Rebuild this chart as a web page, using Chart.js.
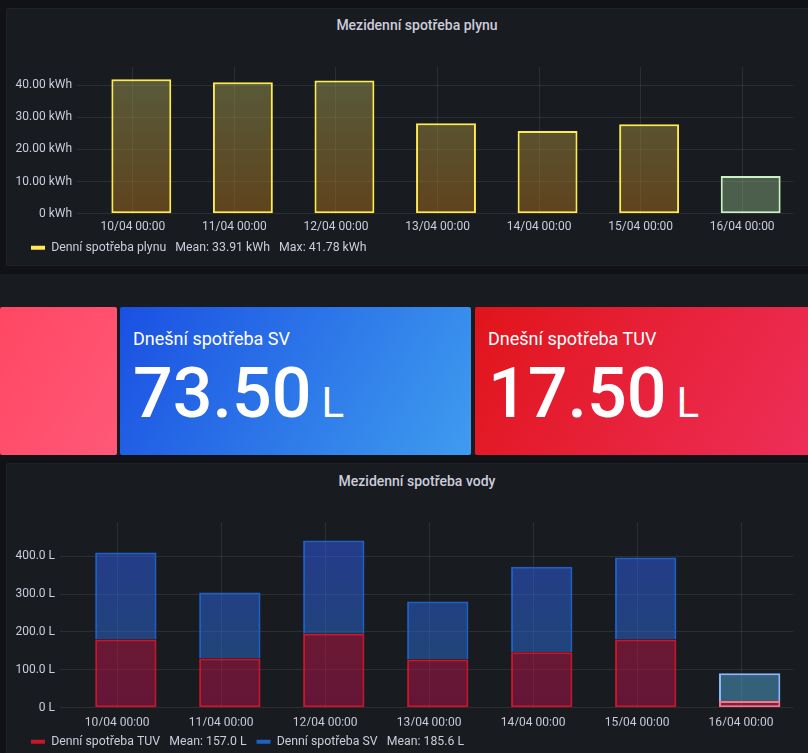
<!DOCTYPE html>
<html>
<head>
<meta charset="utf-8">
<script src="https://cdn.jsdelivr.net/npm/chart.js@4.4.1/dist/chart.umd.min.js"></script>
<style>
  body { margin: 0; width: 808px; height: 753px; overflow: hidden; background: #111217; font-family: Roboto, sans-serif; position: relative; }
  .panel { position: absolute; left: 6px; width: 822px; background: #181b1f; border: 1px solid #202226; border-radius: 2px; box-sizing: border-box; overflow: hidden; }
  .panel canvas { position: absolute; left: -1px; top: -1px; }
  .ptitle { position: absolute; left: 0; right: 0; top: 8px; line-height: 16px; text-align: center; color: #ccccdc; font-size: 14px; font-weight: 500; }
  .band { position: absolute; left: 0; width: 808px; top: 274px; height: 181px; background: #181b1f; }
  .stat { position: absolute; top: 307px; height: 148px; border-radius: 2px; color: #fff; overflow: hidden; }
  .stat .st { position: absolute; left: 13px; top: 23px; font-size: 18px; line-height: 18px; white-space: nowrap; }
  .stat .sv { position: absolute; left: 13px; top: 51px; font-size: 70px; line-height: 70px; font-weight: 500; white-space: nowrap; }
  .stat .sv span { font-size: 42px; margin-left: 10px; font-weight: 400; }
</style>
</head>
<body>

<div class="panel" style="top:8px;height:258px;">
  <div class="ptitle">Mezidenní spotřeba plynu</div>
  <canvas id="chartPlyn" width="802" height="258"></canvas>
</div>

<div class="band"></div>
<div class="stat" style="left:0;width:117px;background:linear-gradient(120deg,#ff4763,#ff5878);"></div>
<div class="stat" style="left:120px;width:351px;background:linear-gradient(120deg,#1a50e2,#3f9cef);">
  <div class="st" id="svTitle"></div>
  <div class="sv"><b id="svValue" style="font-weight:500"></b><span>L</span></div>
</div>
<div class="stat" style="left:475px;width:340px;background:linear-gradient(120deg,#e0141a,#ee2f5a);">
  <div class="st" id="tuvTitle"></div>
  <div class="sv"><b id="tuvValue" style="font-weight:500"></b><span>L</span></div>
</div>

<div class="panel" style="top:463px;height:300px;">
  <div class="ptitle" style="top:9px;">Mezidenní spotřeba vody</div>
  <canvas id="chartVoda" width="802" height="300"></canvas>
</div>

<script>
// dny (pruhy jsou posunuty o 2 h, cas CEST)
var days = ["10/04 00:00", "11/04 00:00", "12/04 00:00", "13/04 00:00", "14/04 00:00", "15/04 00:00", "16/04 00:00"];
var plyn = [41.78, 40.85, 41.4, 28.1, 25.7, 27.8, 11.7];
var tuv = [180, 130, 195, 127, 146, 180, 17.5];
var sv = [229.5, 174, 246, 153.5, 226, 216, 73.5];
var plynTicks = [0, 10, 20, 30, 40];
var vodaTicks = [0, 100, 200, 300, 400];
var legendPlyn = ["Denní spotřeba plynu", "Mean: 33.91 kWh", "Max: 41.78 kWh"];
var legendTuv = ["Denní spotřeba TUV", "Mean: 157.0 L"];
var legendSv = ["Denní spotřeba SV", "Mean: 185.6 L"];
var statTitles = ["Dnešní spotřeba SV", "Dnešní spotřeba TUV"];
var statValues = ["73.50", "17.50"];

var hourOffset = 2 / 24;
var textColor = "#ccccdc";
var gridColor = "rgba(204,204,220,0.11)";
Chart.defaults.font.family = "Roboto";
Chart.defaults.font.size = 12;

document.getElementById("svTitle").textContent = statTitles[0];
document.getElementById("tuvTitle").textContent = statTitles[1];
document.getElementById("svValue").textContent = statValues[0];
document.getElementById("tuvValue").textContent = statValues[1];

// legenda zacina az pod osou y
var legendShift = {
    id: "legendShift",
    afterLayout: function (chart) {
        if (chart.legend) chart.legend.left += 15;
    }
};

function points(values) {
    var list = [];
    for (var i = 0; i < values.length; i++) {
        list.push({ x: i + hourOffset, y: values[i] });
    }
    return list;
}

function grad(chart, top, bottom) {
    var a = chart.chartArea;
    if (!a) return top;
    var g = chart.ctx.createLinearGradient(0, a.top, 0, a.bottom);
    g.addColorStop(0, top);
    g.addColorStop(1, bottom);
    return g;
}

function isToday(c) {
    return c.dataIndex === days.length - 1;
}

function legendItem(parts, color) {
    return {
        text: parts.join("   "),
        fillStyle: color,
        strokeStyle: color,
        fontColor: textColor,
        lineWidth: 0
    };
}

function xScale(padding) {
    return {
        type: "linear",
        min: -0.55,
        max: 6.5,
        offset: false,
        stacked: true,
        grid: { color: gridColor, drawTicks: false, offset: false },
        border: { display: false },
        afterBuildTicks: function (scale) {
            scale.ticks = days.map(function (d, i) { return { value: i }; });
        },
        afterFit: function (scale) { scale.height = 18; },
        ticks: {
            color: textColor,
            padding: padding,
            maxRotation: 0,
            autoSkip: false,
            callback: function (v) { return days[v]; }
        }
    };
}

function yScale(max, tickList, width, fmt) {
    return {
        min: 0,
        max: max,
        stacked: true,
        grid: { color: gridColor, drawTicks: false },
        border: { display: false },
        afterBuildTicks: function (scale) {
            scale.ticks = tickList.map(function (v) { return { value: v }; });
        },
        afterFit: function (scale) { scale.width = width; },
        ticks: { color: textColor, padding: 5, callback: fmt }
    };
}

function legendOpts(items) {
    return {
        position: "bottom",
        align: "start",
        labels: {
            boxWidth: 14,
            boxHeight: 4,
            padding: 10,
            color: textColor,
            font: { size: 12.3 },
            generateLabels: function () { return items; }
        }
    };
}

new Chart("chartPlyn", {
    type: "bar",
    data: {
        datasets: [{
            label: legendPlyn[0],
            data: points(plyn),
            borderWidth: 2,
            borderSkipped: false,
            borderColor: function (c) { return isToday(c) ? "#c8f2c2" : "#ffeb50"; },
            backgroundColor: function (c) {
                if (isToday(c)) return "rgba(150,190,140,0.42)";
                return grad(c.chart, "rgba(150,157,89,0.5)", "rgba(166,109,29,0.5)");
            },
            categoryPercentage: 0.59,
            barPercentage: 1
        }]
    },
    plugins: [legendShift],
    options: {
        responsive: false,
        animation: false,
        layout: { padding: { top: 59, left: 0, right: 15, bottom: 2 } },
        plugins: {
            title: { display: false },
            tooltip: { enabled: false },
            legend: legendOpts([legendItem(legendPlyn, "#ffeb50")])
        },
        scales: {
            x: xScale(6),
            y: yScale(45.6, plynTicks, 71, function (v) {
                return v === 0 ? "0 kWh" : v.toFixed(2) + " kWh";
            })
        }
    }
});

new Chart("chartVoda", {
    type: "bar",
    data: {
        datasets: [{
            label: legendTuv[0],
            data: points(tuv),
            borderWidth: 2,
            borderSkipped: false,
            borderColor: function (c) { return isToday(c) ? "#ff7383" : "#c8162b"; },
            backgroundColor: function (c) {
                if (isToday(c)) return "rgba(216,50,109,0.5)";
                return grad(c.chart, "rgba(206,33,65,0.5)", "rgba(176,17,79,0.5)");
            },
            categoryPercentage: 0.59,
            barPercentage: 1
        }, {
            label: legendSv[0],
            data: points(sv),
            borderWidth: 2,
            borderSkipped: "start",
            borderColor: function (c) { return isToday(c) ? "#8ab8ff" : "#1f60c4"; },
            backgroundColor: function (c) {
                if (isToday(c)) return "rgba(80,165,213,0.5)";
                return grad(c.chart, "rgba(50,90,252,0.5)", "rgba(38,117,196,0.5)");
            },
            categoryPercentage: 0.59,
            barPercentage: 1
        }]
    },
    plugins: [legendShift],
    options: {
        responsive: false,
        animation: false,
        layout: { padding: { top: 59, left: 0, right: 15, bottom: 5 } },
        plugins: {
            tooltip: { enabled: false },
            legend: legendOpts([legendItem(legendTuv, "#c8162b"), legendItem(legendSv, "#1f60c4")])
        },
        scales: {
            x: xScale(8),
            y: yScale(490, vodaTicks, 54, function (v) {
                return v === 0 ? "0 L" : v.toFixed(1) + " L";
            })
        }
    }
});
</script>
</body>
</html>
